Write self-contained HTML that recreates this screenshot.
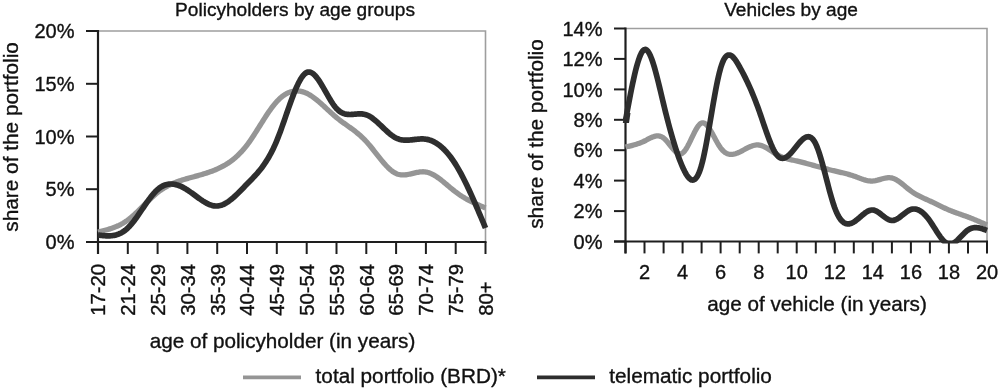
<!DOCTYPE html>
<html><head><meta charset="utf-8"><style>
html,body{margin:0;padding:0;background:#fff;}
svg{display:block;filter:grayscale(1);}
text{font-family:"Liberation Sans", sans-serif;fill:#111;stroke:#111;stroke-width:0.35px;}
</style></head><body>
<svg width="1000" height="391" viewBox="0 0 1000 391">
<path d="M98,31 H485.5 V242" fill="none" stroke="#9e9e9e" stroke-width="1.6"/>
<line x1="86" y1="242.0" x2="98" y2="242.0" stroke="#1e1e1e" stroke-width="2"/>
<text x="74.5" y="249.2" text-anchor="end" font-size="20">0%</text>
<line x1="86" y1="189.2" x2="98" y2="189.2" stroke="#1e1e1e" stroke-width="2"/>
<text x="74.5" y="196.4" text-anchor="end" font-size="20">5%</text>
<line x1="86" y1="136.5" x2="98" y2="136.5" stroke="#1e1e1e" stroke-width="2"/>
<text x="74.5" y="143.7" text-anchor="end" font-size="20">10%</text>
<line x1="86" y1="83.8" x2="98" y2="83.8" stroke="#1e1e1e" stroke-width="2"/>
<text x="74.5" y="91.0" text-anchor="end" font-size="20">15%</text>
<line x1="86" y1="31.0" x2="98" y2="31.0" stroke="#1e1e1e" stroke-width="2"/>
<text x="74.5" y="38.2" text-anchor="end" font-size="20">20%</text>
<line x1="98.0" y1="242" x2="98.0" y2="254" stroke="#1e1e1e" stroke-width="2"/>
<line x1="127.8" y1="242" x2="127.8" y2="254" stroke="#1e1e1e" stroke-width="2"/>
<line x1="157.6" y1="242" x2="157.6" y2="254" stroke="#1e1e1e" stroke-width="2"/>
<line x1="187.4" y1="242" x2="187.4" y2="254" stroke="#1e1e1e" stroke-width="2"/>
<line x1="217.2" y1="242" x2="217.2" y2="254" stroke="#1e1e1e" stroke-width="2"/>
<line x1="247.0" y1="242" x2="247.0" y2="254" stroke="#1e1e1e" stroke-width="2"/>
<line x1="276.8" y1="242" x2="276.8" y2="254" stroke="#1e1e1e" stroke-width="2"/>
<line x1="306.7" y1="242" x2="306.7" y2="254" stroke="#1e1e1e" stroke-width="2"/>
<line x1="336.5" y1="242" x2="336.5" y2="254" stroke="#1e1e1e" stroke-width="2"/>
<line x1="366.3" y1="242" x2="366.3" y2="254" stroke="#1e1e1e" stroke-width="2"/>
<line x1="396.1" y1="242" x2="396.1" y2="254" stroke="#1e1e1e" stroke-width="2"/>
<line x1="425.9" y1="242" x2="425.9" y2="254" stroke="#1e1e1e" stroke-width="2"/>
<line x1="455.7" y1="242" x2="455.7" y2="254" stroke="#1e1e1e" stroke-width="2"/>
<line x1="485.5" y1="242" x2="485.5" y2="254" stroke="#1e1e1e" stroke-width="2"/>
<text transform="translate(105.3,315.8) rotate(-90)" font-size="20.3">17-20</text>
<text transform="translate(135.1,315.8) rotate(-90)" font-size="20.3">21-24</text>
<text transform="translate(164.9,315.8) rotate(-90)" font-size="20.3">25-29</text>
<text transform="translate(194.7,315.8) rotate(-90)" font-size="20.3">30-34</text>
<text transform="translate(224.5,315.8) rotate(-90)" font-size="20.3">35-39</text>
<text transform="translate(254.3,315.8) rotate(-90)" font-size="20.3">40-44</text>
<text transform="translate(284.1,315.8) rotate(-90)" font-size="20.3">45-49</text>
<text transform="translate(314.0,315.8) rotate(-90)" font-size="20.3">50-54</text>
<text transform="translate(343.8,315.8) rotate(-90)" font-size="20.3">55-59</text>
<text transform="translate(373.6,315.8) rotate(-90)" font-size="20.3">60-64</text>
<text transform="translate(403.4,315.8) rotate(-90)" font-size="20.3">65-69</text>
<text transform="translate(433.2,315.8) rotate(-90)" font-size="20.3">70-74</text>
<text transform="translate(463.0,315.8) rotate(-90)" font-size="20.3">75-79</text>
<text transform="translate(492.8,315.8) rotate(-90)" font-size="20.3">80+</text>
<line x1="98" y1="30" x2="98" y2="254" stroke="#1e1e1e" stroke-width="2.2"/>
<line x1="86" y1="242" x2="486.5" y2="242" stroke="#1e1e1e" stroke-width="2"/>
<path d="M98.00,232.00 L99.00,231.76 L100.00,231.53 L101.00,231.29 L102.00,231.05 L103.00,230.80 L104.00,230.55 L105.00,230.29 L106.00,230.02 L107.00,229.75 L108.00,229.46 L109.00,229.16 L110.00,228.85 L111.00,228.53 L112.00,228.19 L113.00,227.84 L114.00,227.47 L115.00,227.08 L116.00,226.67 L117.00,226.24 L118.00,225.79 L119.00,225.32 L120.00,224.82 L121.00,224.30 L122.00,223.75 L123.00,223.18 L124.00,222.58 L125.00,221.94 L126.00,221.28 L127.00,220.59 L128.00,219.86 L129.00,219.10 L130.00,218.30 L131.00,217.48 L132.00,216.64 L133.00,215.76 L134.00,214.87 L135.00,213.95 L136.00,213.02 L137.00,212.07 L138.00,211.11 L139.00,210.13 L140.00,209.14 L141.00,208.15 L142.00,207.15 L143.00,206.15 L144.00,205.15 L145.00,204.15 L146.00,203.15 L147.00,202.15 L148.00,201.17 L149.00,200.19 L150.00,199.23 L151.00,198.28 L152.00,197.34 L153.00,196.43 L154.00,195.53 L155.00,194.66 L156.00,193.81 L157.00,192.99 L158.00,192.20 L159.00,191.44 L160.00,190.70 L161.00,190.00 L162.00,189.32 L163.00,188.67 L164.00,188.04 L165.00,187.44 L166.00,186.86 L167.00,186.31 L168.00,185.78 L169.00,185.26 L170.00,184.77 L171.00,184.30 L172.00,183.84 L173.00,183.41 L174.00,182.99 L175.00,182.58 L176.00,182.19 L177.00,181.82 L178.00,181.45 L179.00,181.10 L180.00,180.76 L181.00,180.43 L182.00,180.11 L183.00,179.80 L184.00,179.50 L185.00,179.20 L186.00,178.91 L187.00,178.62 L188.00,178.34 L189.00,178.06 L190.00,177.78 L191.00,177.51 L192.00,177.23 L193.00,176.96 L194.00,176.69 L195.00,176.41 L196.00,176.14 L197.00,175.86 L198.00,175.59 L199.00,175.31 L200.00,175.02 L201.00,174.74 L202.00,174.44 L203.00,174.15 L204.00,173.84 L205.00,173.53 L206.00,173.22 L207.00,172.89 L208.00,172.56 L209.00,172.22 L210.00,171.87 L211.00,171.51 L212.00,171.14 L213.00,170.75 L214.00,170.36 L215.00,169.95 L216.00,169.53 L217.00,169.10 L218.00,168.65 L219.00,168.19 L220.00,167.71 L221.00,167.22 L222.00,166.70 L223.00,166.17 L224.00,165.62 L225.00,165.05 L226.00,164.45 L227.00,163.83 L228.00,163.19 L229.00,162.52 L230.00,161.82 L231.00,161.10 L232.00,160.35 L233.00,159.57 L234.00,158.76 L235.00,157.92 L236.00,157.05 L237.00,156.15 L238.00,155.21 L239.00,154.23 L240.00,153.22 L241.00,152.17 L242.00,151.09 L243.00,149.96 L244.00,148.80 L245.00,147.59 L246.00,146.34 L247.00,145.05 L248.00,143.72 L249.00,142.34 L250.00,140.93 L251.00,139.48 L252.00,138.00 L253.00,136.50 L254.00,134.97 L255.00,133.42 L256.00,131.86 L257.00,130.28 L258.00,128.69 L259.00,127.10 L260.00,125.50 L261.00,123.91 L262.00,122.32 L263.00,120.73 L264.00,119.16 L265.00,117.60 L266.00,116.07 L267.00,114.55 L268.00,113.06 L269.00,111.59 L270.00,110.16 L271.00,108.77 L272.00,107.41 L273.00,106.10 L274.00,104.83 L275.00,103.61 L276.00,102.44 L277.00,101.33 L278.00,100.28 L279.00,99.29 L280.00,98.36 L281.00,97.48 L282.00,96.66 L283.00,95.90 L284.00,95.20 L285.00,94.55 L286.00,93.95 L287.00,93.42 L288.00,92.93 L289.00,92.50 L290.00,92.12 L291.00,91.80 L292.00,91.53 L293.00,91.31 L294.00,91.15 L295.00,91.03 L296.00,90.96 L297.00,90.95 L298.00,90.99 L299.00,91.07 L300.00,91.20 L301.00,91.38 L302.00,91.61 L303.00,91.89 L304.00,92.22 L305.00,92.59 L306.00,93.00 L307.00,93.47 L308.00,93.97 L309.00,94.52 L310.00,95.11 L311.00,95.74 L312.00,96.40 L313.00,97.09 L314.00,97.82 L315.00,98.57 L316.00,99.36 L317.00,100.16 L318.00,100.99 L319.00,101.84 L320.00,102.70 L321.00,103.58 L322.00,104.48 L323.00,105.38 L324.00,106.30 L325.00,107.22 L326.00,108.14 L327.00,109.07 L328.00,109.99 L329.00,110.92 L330.00,111.83 L331.00,112.74 L332.00,113.65 L333.00,114.54 L334.00,115.41 L335.00,116.28 L336.00,117.12 L337.00,117.94 L338.00,118.74 L339.00,119.53 L340.00,120.29 L341.00,121.05 L342.00,121.79 L343.00,122.52 L344.00,123.24 L345.00,123.96 L346.00,124.67 L347.00,125.38 L348.00,126.09 L349.00,126.80 L350.00,127.52 L351.00,128.24 L352.00,128.97 L353.00,129.71 L354.00,130.47 L355.00,131.23 L356.00,132.02 L357.00,132.82 L358.00,133.64 L359.00,134.49 L360.00,135.36 L361.00,136.26 L362.00,137.18 L363.00,138.14 L364.00,139.12 L365.00,140.15 L366.00,141.21 L367.00,142.31 L368.00,143.44 L369.00,144.61 L370.00,145.80 L371.00,147.02 L372.00,148.26 L373.00,149.52 L374.00,150.79 L375.00,152.06 L376.00,153.34 L377.00,154.62 L378.00,155.90 L379.00,157.16 L380.00,158.42 L381.00,159.65 L382.00,160.87 L383.00,162.06 L384.00,163.23 L385.00,164.36 L386.00,165.45 L387.00,166.50 L388.00,167.51 L389.00,168.47 L390.00,169.38 L391.00,170.22 L392.00,171.01 L393.00,171.73 L394.00,172.39 L395.00,172.96 L396.00,173.46 L397.00,173.89 L398.00,174.23 L399.00,174.50 L400.00,174.70 L401.00,174.84 L402.00,174.92 L403.00,174.95 L404.00,174.93 L405.00,174.86 L406.00,174.76 L407.00,174.62 L408.00,174.46 L409.00,174.27 L410.00,174.06 L411.00,173.83 L412.00,173.60 L413.00,173.36 L414.00,173.12 L415.00,172.89 L416.00,172.67 L417.00,172.46 L418.00,172.26 L419.00,172.10 L420.00,171.96 L421.00,171.86 L422.00,171.79 L423.00,171.77 L424.00,171.80 L425.00,171.88 L426.00,172.02 L427.00,172.22 L428.00,172.48 L429.00,172.79 L430.00,173.16 L431.00,173.58 L432.00,174.05 L433.00,174.56 L434.00,175.12 L435.00,175.71 L436.00,176.34 L437.00,177.01 L438.00,177.70 L439.00,178.42 L440.00,179.17 L441.00,179.94 L442.00,180.73 L443.00,181.54 L444.00,182.36 L445.00,183.19 L446.00,184.03 L447.00,184.87 L448.00,185.72 L449.00,186.56 L450.00,187.41 L451.00,188.24 L452.00,189.07 L453.00,189.89 L454.00,190.69 L455.00,191.47 L456.00,192.23 L457.00,192.97 L458.00,193.69 L459.00,194.39 L460.00,195.07 L461.00,195.73 L462.00,196.37 L463.00,197.00 L464.00,197.60 L465.00,198.20 L466.00,198.77 L467.00,199.33 L468.00,199.88 L469.00,200.41 L470.00,200.94 L471.00,201.45 L472.00,201.94 L473.00,202.43 L474.00,202.91 L475.00,203.39 L476.00,203.85 L477.00,204.30 L478.00,204.75 L479.00,205.20 L480.00,205.64 L481.00,206.07 L482.00,206.50 L483.00,206.93 L484.00,207.36 L485.00,207.79 L485.50,208.00" fill="none" stroke="#959595" stroke-width="5.3" stroke-linejoin="round" stroke-linecap="butt"/>
<path d="M98.00,235.00 L99.00,235.13 L100.00,235.25 L101.00,235.37 L102.00,235.48 L103.00,235.58 L104.00,235.67 L105.00,235.74 L106.00,235.80 L107.00,235.84 L108.00,235.85 L109.00,235.85 L110.00,235.81 L111.00,235.75 L112.00,235.65 L113.00,235.52 L114.00,235.35 L115.00,235.15 L116.00,234.90 L117.00,234.61 L118.00,234.27 L119.00,233.88 L120.00,233.45 L121.00,232.96 L122.00,232.41 L123.00,231.80 L124.00,231.14 L125.00,230.41 L126.00,229.61 L127.00,228.75 L128.00,227.81 L129.00,226.81 L130.00,225.74 L131.00,224.60 L132.00,223.41 L133.00,222.17 L134.00,220.88 L135.00,219.55 L136.00,218.19 L137.00,216.79 L138.00,215.37 L139.00,213.92 L140.00,212.46 L141.00,210.99 L142.00,209.51 L143.00,208.04 L144.00,206.56 L145.00,205.10 L146.00,203.64 L147.00,202.21 L148.00,200.80 L149.00,199.43 L150.00,198.08 L151.00,196.78 L152.00,195.52 L153.00,194.30 L154.00,193.15 L155.00,192.05 L156.00,191.02 L157.00,190.06 L158.00,189.17 L159.00,188.36 L160.00,187.62 L161.00,186.96 L162.00,186.37 L163.00,185.85 L164.00,185.39 L165.00,185.01 L166.00,184.69 L167.00,184.43 L168.00,184.23 L169.00,184.09 L170.00,184.01 L171.00,183.99 L172.00,184.02 L173.00,184.10 L174.00,184.23 L175.00,184.41 L176.00,184.64 L177.00,184.91 L178.00,185.23 L179.00,185.59 L180.00,185.98 L181.00,186.42 L182.00,186.89 L183.00,187.40 L184.00,187.93 L185.00,188.50 L186.00,189.10 L187.00,189.73 L188.00,190.38 L189.00,191.05 L190.00,191.75 L191.00,192.46 L192.00,193.18 L193.00,193.91 L194.00,194.65 L195.00,195.39 L196.00,196.14 L197.00,196.88 L198.00,197.61 L199.00,198.33 L200.00,199.04 L201.00,199.74 L202.00,200.41 L203.00,201.07 L204.00,201.69 L205.00,202.29 L206.00,202.86 L207.00,203.39 L208.00,203.88 L209.00,204.33 L210.00,204.73 L211.00,205.08 L212.00,205.39 L213.00,205.64 L214.00,205.83 L215.00,205.95 L216.00,206.02 L217.00,206.01 L218.00,205.94 L219.00,205.79 L220.00,205.58 L221.00,205.30 L222.00,204.96 L223.00,204.56 L224.00,204.10 L225.00,203.59 L226.00,203.03 L227.00,202.42 L228.00,201.76 L229.00,201.06 L230.00,200.32 L231.00,199.54 L232.00,198.72 L233.00,197.88 L234.00,197.00 L235.00,196.09 L236.00,195.16 L237.00,194.21 L238.00,193.24 L239.00,192.25 L240.00,191.24 L241.00,190.23 L242.00,189.20 L243.00,188.17 L244.00,187.14 L245.00,186.10 L246.00,185.07 L247.00,184.04 L248.00,183.02 L249.00,182.00 L250.00,180.98 L251.00,179.95 L252.00,178.92 L253.00,177.88 L254.00,176.82 L255.00,175.75 L256.00,174.65 L257.00,173.53 L258.00,172.38 L259.00,171.19 L260.00,169.97 L261.00,168.71 L262.00,167.41 L263.00,166.06 L264.00,164.65 L265.00,163.20 L266.00,161.68 L267.00,160.10 L268.00,158.46 L269.00,156.75 L270.00,154.96 L271.00,153.10 L272.00,151.16 L273.00,149.14 L274.00,147.02 L275.00,144.82 L276.00,142.52 L277.00,140.12 L278.00,137.63 L279.00,135.05 L280.00,132.39 L281.00,129.66 L282.00,126.88 L283.00,124.06 L284.00,121.20 L285.00,118.32 L286.00,115.43 L287.00,112.55 L288.00,109.67 L289.00,106.82 L290.00,104.01 L291.00,101.24 L292.00,98.53 L293.00,95.88 L294.00,93.32 L295.00,90.85 L296.00,88.48 L297.00,86.22 L298.00,84.09 L299.00,82.09 L300.00,80.24 L301.00,78.55 L302.00,77.03 L303.00,75.69 L304.00,74.54 L305.00,73.59 L306.00,72.86 L307.00,72.35 L308.00,72.07 L309.00,72.01 L310.00,72.15 L311.00,72.49 L312.00,73.00 L313.00,73.68 L314.00,74.52 L315.00,75.50 L316.00,76.62 L317.00,77.85 L318.00,79.19 L319.00,80.63 L320.00,82.15 L321.00,83.75 L322.00,85.40 L323.00,87.10 L324.00,88.83 L325.00,90.59 L326.00,92.36 L327.00,94.12 L328.00,95.88 L329.00,97.61 L330.00,99.30 L331.00,100.94 L332.00,102.52 L333.00,104.03 L334.00,105.45 L335.00,106.77 L336.00,107.98 L337.00,109.07 L338.00,110.04 L339.00,110.89 L340.00,111.63 L341.00,112.27 L342.00,112.81 L343.00,113.26 L344.00,113.62 L345.00,113.92 L346.00,114.14 L347.00,114.30 L348.00,114.41 L349.00,114.46 L350.00,114.48 L351.00,114.46 L352.00,114.41 L353.00,114.35 L354.00,114.27 L355.00,114.18 L356.00,114.09 L357.00,114.01 L358.00,113.94 L359.00,113.89 L360.00,113.87 L361.00,113.89 L362.00,113.94 L363.00,114.04 L364.00,114.20 L365.00,114.42 L366.00,114.71 L367.00,115.07 L368.00,115.51 L369.00,116.02 L370.00,116.58 L371.00,117.21 L372.00,117.90 L373.00,118.63 L374.00,119.41 L375.00,120.22 L376.00,121.08 L377.00,121.96 L378.00,122.87 L379.00,123.79 L380.00,124.74 L381.00,125.69 L382.00,126.65 L383.00,127.61 L384.00,128.57 L385.00,129.51 L386.00,130.45 L387.00,131.36 L388.00,132.25 L389.00,133.12 L390.00,133.95 L391.00,134.74 L392.00,135.49 L393.00,136.19 L394.00,136.84 L395.00,137.43 L396.00,137.96 L397.00,138.43 L398.00,138.82 L399.00,139.16 L400.00,139.45 L401.00,139.68 L402.00,139.86 L403.00,139.99 L404.00,140.09 L405.00,140.14 L406.00,140.16 L407.00,140.16 L408.00,140.12 L409.00,140.06 L410.00,139.99 L411.00,139.89 L412.00,139.79 L413.00,139.68 L414.00,139.56 L415.00,139.45 L416.00,139.33 L417.00,139.23 L418.00,139.13 L419.00,139.05 L420.00,138.99 L421.00,138.95 L422.00,138.94 L423.00,138.95 L424.00,139.00 L425.00,139.09 L426.00,139.22 L427.00,139.39 L428.00,139.60 L429.00,139.86 L430.00,140.17 L431.00,140.52 L432.00,140.92 L433.00,141.36 L434.00,141.85 L435.00,142.39 L436.00,142.97 L437.00,143.60 L438.00,144.28 L439.00,145.01 L440.00,145.78 L441.00,146.61 L442.00,147.48 L443.00,148.40 L444.00,149.37 L445.00,150.39 L446.00,151.46 L447.00,152.58 L448.00,153.75 L449.00,154.98 L450.00,156.25 L451.00,157.58 L452.00,158.96 L453.00,160.39 L454.00,161.87 L455.00,163.41 L456.00,164.99 L457.00,166.64 L458.00,168.33 L459.00,170.07 L460.00,171.86 L461.00,173.70 L462.00,175.58 L463.00,177.50 L464.00,179.46 L465.00,181.46 L466.00,183.50 L467.00,185.57 L468.00,187.67 L469.00,189.81 L470.00,191.98 L471.00,194.17 L472.00,196.39 L473.00,198.64 L474.00,200.90 L475.00,203.19 L476.00,205.50 L477.00,207.82 L478.00,210.16 L479.00,212.51 L480.00,214.87 L481.00,217.25 L482.00,219.63 L483.00,222.02 L484.00,224.41 L485.00,226.80 L485.50,228.00" fill="none" stroke="#2e2e2e" stroke-width="5.7" stroke-linejoin="round" stroke-linecap="butt"/>
<text x="295" y="15.7" text-anchor="middle" font-size="19.1">Policyholders by age groups</text>
<text transform="translate(17.9,136.9) rotate(-90)" text-anchor="middle" font-size="20.8">share of the portfolio</text>
<text x="282.5" y="348.4" text-anchor="middle" font-size="20.7">age of policyholder (in years)</text>
<path d="M625.5,28.5 H987 V241.5" fill="none" stroke="#9e9e9e" stroke-width="1.6"/>
<line x1="614" y1="241.5" x2="625.5" y2="241.5" stroke="#1e1e1e" stroke-width="2"/>
<text x="602.5" y="248.7" text-anchor="end" font-size="20">0%</text>
<line x1="614" y1="211.1" x2="625.5" y2="211.1" stroke="#1e1e1e" stroke-width="2"/>
<text x="602.5" y="218.3" text-anchor="end" font-size="20">2%</text>
<line x1="614" y1="180.6" x2="625.5" y2="180.6" stroke="#1e1e1e" stroke-width="2"/>
<text x="602.5" y="187.8" text-anchor="end" font-size="20">4%</text>
<line x1="614" y1="150.2" x2="625.5" y2="150.2" stroke="#1e1e1e" stroke-width="2"/>
<text x="602.5" y="157.4" text-anchor="end" font-size="20">6%</text>
<line x1="614" y1="119.8" x2="625.5" y2="119.8" stroke="#1e1e1e" stroke-width="2"/>
<text x="602.5" y="127.0" text-anchor="end" font-size="20">8%</text>
<line x1="614" y1="89.4" x2="625.5" y2="89.4" stroke="#1e1e1e" stroke-width="2"/>
<text x="602.5" y="96.6" text-anchor="end" font-size="20">10%</text>
<line x1="614" y1="58.9" x2="625.5" y2="58.9" stroke="#1e1e1e" stroke-width="2"/>
<text x="602.5" y="66.1" text-anchor="end" font-size="20">12%</text>
<line x1="614" y1="28.5" x2="625.5" y2="28.5" stroke="#1e1e1e" stroke-width="2"/>
<text x="602.5" y="35.7" text-anchor="end" font-size="20">14%</text>
<line x1="625.5" y1="241.5" x2="625.5" y2="253.4" stroke="#1e1e1e" stroke-width="2"/>
<line x1="644.5" y1="241.5" x2="644.5" y2="253.4" stroke="#1e1e1e" stroke-width="2"/>
<line x1="663.6" y1="241.5" x2="663.6" y2="253.4" stroke="#1e1e1e" stroke-width="2"/>
<line x1="682.6" y1="241.5" x2="682.6" y2="253.4" stroke="#1e1e1e" stroke-width="2"/>
<line x1="701.6" y1="241.5" x2="701.6" y2="253.4" stroke="#1e1e1e" stroke-width="2"/>
<line x1="720.6" y1="241.5" x2="720.6" y2="253.4" stroke="#1e1e1e" stroke-width="2"/>
<line x1="739.7" y1="241.5" x2="739.7" y2="253.4" stroke="#1e1e1e" stroke-width="2"/>
<line x1="758.7" y1="241.5" x2="758.7" y2="253.4" stroke="#1e1e1e" stroke-width="2"/>
<line x1="777.7" y1="241.5" x2="777.7" y2="253.4" stroke="#1e1e1e" stroke-width="2"/>
<line x1="796.7" y1="241.5" x2="796.7" y2="253.4" stroke="#1e1e1e" stroke-width="2"/>
<line x1="815.8" y1="241.5" x2="815.8" y2="253.4" stroke="#1e1e1e" stroke-width="2"/>
<line x1="834.8" y1="241.5" x2="834.8" y2="253.4" stroke="#1e1e1e" stroke-width="2"/>
<line x1="853.8" y1="241.5" x2="853.8" y2="253.4" stroke="#1e1e1e" stroke-width="2"/>
<line x1="872.8" y1="241.5" x2="872.8" y2="253.4" stroke="#1e1e1e" stroke-width="2"/>
<line x1="891.9" y1="241.5" x2="891.9" y2="253.4" stroke="#1e1e1e" stroke-width="2"/>
<line x1="910.9" y1="241.5" x2="910.9" y2="253.4" stroke="#1e1e1e" stroke-width="2"/>
<line x1="929.9" y1="241.5" x2="929.9" y2="253.4" stroke="#1e1e1e" stroke-width="2"/>
<line x1="948.9" y1="241.5" x2="948.9" y2="253.4" stroke="#1e1e1e" stroke-width="2"/>
<line x1="968.0" y1="241.5" x2="968.0" y2="253.4" stroke="#1e1e1e" stroke-width="2"/>
<line x1="987.0" y1="241.5" x2="987.0" y2="253.4" stroke="#1e1e1e" stroke-width="2"/>
<text x="644.5" y="279.2" text-anchor="middle" font-size="20">2</text>
<text x="682.6" y="279.2" text-anchor="middle" font-size="20">4</text>
<text x="720.6" y="279.2" text-anchor="middle" font-size="20">6</text>
<text x="758.7" y="279.2" text-anchor="middle" font-size="20">8</text>
<text x="796.7" y="279.2" text-anchor="middle" font-size="20">10</text>
<text x="834.8" y="279.2" text-anchor="middle" font-size="20">12</text>
<text x="872.8" y="279.2" text-anchor="middle" font-size="20">14</text>
<text x="910.9" y="279.2" text-anchor="middle" font-size="20">16</text>
<text x="948.9" y="279.2" text-anchor="middle" font-size="20">18</text>
<text x="987.0" y="279.2" text-anchor="middle" font-size="20">20</text>
<line x1="625.5" y1="27.5" x2="625.5" y2="253.4" stroke="#1e1e1e" stroke-width="2.2"/>
<line x1="614" y1="241.5" x2="988" y2="241.5" stroke="#1e1e1e" stroke-width="2"/>
<path d="M625.50,147.00 L626.50,146.77 L627.50,146.54 L628.50,146.31 L629.50,146.07 L630.50,145.83 L631.50,145.58 L632.50,145.32 L633.50,145.05 L634.50,144.77 L635.50,144.48 L636.50,144.17 L637.50,143.85 L638.50,143.51 L639.50,143.15 L640.50,142.77 L641.50,142.36 L642.50,141.94 L643.50,141.49 L644.50,141.01 L645.50,140.51 L646.50,139.99 L647.50,139.46 L648.50,138.94 L649.50,138.42 L650.50,137.93 L651.50,137.47 L652.50,137.05 L653.50,136.68 L654.50,136.37 L655.50,136.13 L656.50,135.98 L657.50,135.91 L658.50,135.94 L659.50,136.09 L660.50,136.35 L661.50,136.74 L662.50,137.28 L663.50,137.96 L664.50,138.80 L665.50,139.77 L666.50,140.85 L667.50,142.02 L668.50,143.26 L669.50,144.53 L670.50,145.81 L671.50,147.08 L672.50,148.31 L673.50,149.47 L674.50,150.55 L675.50,151.52 L676.50,152.35 L677.50,153.02 L678.50,153.50 L679.50,153.77 L680.50,153.80 L681.50,153.57 L682.50,153.05 L683.50,152.23 L684.50,151.13 L685.50,149.78 L686.50,148.22 L687.50,146.49 L688.50,144.61 L689.50,142.62 L690.50,140.56 L691.50,138.46 L692.50,136.36 L693.50,134.29 L694.50,132.29 L695.50,130.38 L696.50,128.62 L697.50,127.02 L698.50,125.63 L699.50,124.48 L700.50,123.61 L701.50,123.04 L702.50,122.81 L703.50,122.91 L704.50,123.30 L705.50,123.96 L706.50,124.87 L707.50,125.99 L708.50,127.30 L709.50,128.77 L710.50,130.37 L711.50,132.08 L712.50,133.87 L713.50,135.72 L714.50,137.58 L715.50,139.45 L716.50,141.29 L717.50,143.08 L718.50,144.78 L719.50,146.37 L720.50,147.82 L721.50,149.11 L722.50,150.25 L723.50,151.22 L724.50,152.06 L725.50,152.75 L726.50,153.31 L727.50,153.75 L728.50,154.07 L729.50,154.28 L730.50,154.40 L731.50,154.41 L732.50,154.35 L733.50,154.20 L734.50,153.98 L735.50,153.70 L736.50,153.36 L737.50,152.97 L738.50,152.54 L739.50,152.08 L740.50,151.59 L741.50,151.07 L742.50,150.55 L743.50,150.02 L744.50,149.48 L745.50,148.95 L746.50,148.42 L747.50,147.91 L748.50,147.42 L749.50,146.96 L750.50,146.53 L751.50,146.14 L752.50,145.80 L753.50,145.50 L754.50,145.26 L755.50,145.08 L756.50,144.97 L757.50,144.94 L758.50,144.98 L759.50,145.11 L760.50,145.32 L761.50,145.61 L762.50,145.96 L763.50,146.37 L764.50,146.84 L765.50,147.36 L766.50,147.91 L767.50,148.51 L768.50,149.13 L769.50,149.77 L770.50,150.43 L771.50,151.09 L772.50,151.76 L773.50,152.42 L774.50,153.07 L775.50,153.70 L776.50,154.31 L777.50,154.88 L778.50,155.42 L779.50,155.92 L780.50,156.38 L781.50,156.82 L782.50,157.22 L783.50,157.59 L784.50,157.93 L785.50,158.26 L786.50,158.56 L787.50,158.84 L788.50,159.11 L789.50,159.36 L790.50,159.60 L791.50,159.84 L792.50,160.06 L793.50,160.28 L794.50,160.50 L795.50,160.72 L796.50,160.95 L797.50,161.17 L798.50,161.41 L799.50,161.65 L800.50,161.89 L801.50,162.14 L802.50,162.40 L803.50,162.65 L804.50,162.91 L805.50,163.18 L806.50,163.44 L807.50,163.71 L808.50,163.99 L809.50,164.26 L810.50,164.54 L811.50,164.81 L812.50,165.09 L813.50,165.37 L814.50,165.65 L815.50,165.93 L816.50,166.20 L817.50,166.48 L818.50,166.76 L819.50,167.03 L820.50,167.31 L821.50,167.58 L822.50,167.85 L823.50,168.12 L824.50,168.39 L825.50,168.66 L826.50,168.92 L827.50,169.18 L828.50,169.44 L829.50,169.70 L830.50,169.95 L831.50,170.20 L832.50,170.45 L833.50,170.69 L834.50,170.93 L835.50,171.17 L836.50,171.40 L837.50,171.63 L838.50,171.86 L839.50,172.09 L840.50,172.32 L841.50,172.55 L842.50,172.79 L843.50,173.03 L844.50,173.28 L845.50,173.53 L846.50,173.79 L847.50,174.05 L848.50,174.33 L849.50,174.62 L850.50,174.92 L851.50,175.23 L852.50,175.55 L853.50,175.89 L854.50,176.24 L855.50,176.61 L856.50,176.99 L857.50,177.37 L858.50,177.75 L859.50,178.13 L860.50,178.51 L861.50,178.87 L862.50,179.22 L863.50,179.55 L864.50,179.85 L865.50,180.13 L866.50,180.38 L867.50,180.60 L868.50,180.78 L869.50,180.91 L870.50,181.00 L871.50,181.04 L872.50,181.02 L873.50,180.94 L874.50,180.81 L875.50,180.64 L876.50,180.42 L877.50,180.18 L878.50,179.91 L879.50,179.63 L880.50,179.34 L881.50,179.05 L882.50,178.76 L883.50,178.50 L884.50,178.26 L885.50,178.05 L886.50,177.88 L887.50,177.76 L888.50,177.70 L889.50,177.70 L890.50,177.77 L891.50,177.92 L892.50,178.16 L893.50,178.49 L894.50,178.89 L895.50,179.37 L896.50,179.91 L897.50,180.51 L898.50,181.17 L899.50,181.87 L900.50,182.61 L901.50,183.38 L902.50,184.18 L903.50,185.00 L904.50,185.83 L905.50,186.67 L906.50,187.51 L907.50,188.33 L908.50,189.15 L909.50,189.94 L910.50,190.71 L911.50,191.44 L912.50,192.13 L913.50,192.80 L914.50,193.43 L915.50,194.03 L916.50,194.61 L917.50,195.16 L918.50,195.69 L919.50,196.20 L920.50,196.70 L921.50,197.18 L922.50,197.65 L923.50,198.11 L924.50,198.56 L925.50,199.01 L926.50,199.46 L927.50,199.91 L928.50,200.35 L929.50,200.81 L930.50,201.27 L931.50,201.74 L932.50,202.21 L933.50,202.69 L934.50,203.17 L935.50,203.66 L936.50,204.15 L937.50,204.64 L938.50,205.13 L939.50,205.62 L940.50,206.11 L941.50,206.59 L942.50,207.07 L943.50,207.55 L944.50,208.02 L945.50,208.48 L946.50,208.93 L947.50,209.38 L948.50,209.81 L949.50,210.23 L950.50,210.64 L951.50,211.04 L952.50,211.43 L953.50,211.81 L954.50,212.19 L955.50,212.55 L956.50,212.91 L957.50,213.27 L958.50,213.63 L959.50,213.98 L960.50,214.33 L961.50,214.68 L962.50,215.03 L963.50,215.38 L964.50,215.73 L965.50,216.09 L966.50,216.45 L967.50,216.82 L968.50,217.20 L969.50,217.58 L970.50,217.97 L971.50,218.36 L972.50,218.76 L973.50,219.17 L974.50,219.58 L975.50,220.00 L976.50,220.42 L977.50,220.84 L978.50,221.27 L979.50,221.70 L980.50,222.14 L981.50,222.57 L982.50,223.01 L983.50,223.45 L984.50,223.89 L985.50,224.34 L986.50,224.78 L987.00,225.00" fill="none" stroke="#959595" stroke-width="5.3" stroke-linejoin="round"/>
<path d="M622.8,123 L629,123 L630.5,113 L624.5,113 Z" fill="#2e2e2e"/>
<defs><clipPath id="rc"><rect x="600" y="0" width="400" height="243.6"/></clipPath></defs>
<path clip-path="url(#rc)" d="M625.50,120.70 L626.50,115.26 L627.50,109.84 L628.50,104.49 L629.50,99.21 L630.50,94.06 L631.50,89.04 L632.50,84.19 L633.50,79.54 L634.50,75.11 L635.50,70.94 L636.50,67.05 L637.50,63.48 L638.50,60.24 L639.50,57.37 L640.50,54.89 L641.50,52.84 L642.50,51.24 L643.50,50.12 L644.50,49.51 L645.50,49.43 L646.50,49.85 L647.50,50.75 L648.50,52.09 L649.50,53.84 L650.50,55.97 L651.50,58.45 L652.50,61.25 L653.50,64.33 L654.50,67.66 L655.50,71.21 L656.50,74.95 L657.50,78.85 L658.50,82.88 L659.50,87.00 L660.50,91.18 L661.50,95.39 L662.50,99.60 L663.50,103.78 L664.50,107.90 L665.50,111.95 L666.50,115.92 L667.50,119.82 L668.50,123.63 L669.50,127.37 L670.50,131.02 L671.50,134.58 L672.50,138.04 L673.50,141.41 L674.50,144.68 L675.50,147.84 L676.50,150.90 L677.50,153.85 L678.50,156.68 L679.50,159.40 L680.50,162.00 L681.50,164.47 L682.50,166.82 L683.50,169.04 L684.50,171.10 L685.50,173.00 L686.50,174.72 L687.50,176.23 L688.50,177.52 L689.50,178.56 L690.50,179.35 L691.50,179.85 L692.50,180.06 L693.50,179.95 L694.50,179.50 L695.50,178.70 L696.50,177.52 L697.50,175.96 L698.50,173.98 L699.50,171.57 L700.50,168.71 L701.50,165.38 L702.50,161.57 L703.50,157.32 L704.50,152.69 L705.50,147.71 L706.50,142.46 L707.50,136.97 L708.50,131.30 L709.50,125.51 L710.50,119.64 L711.50,113.75 L712.50,107.89 L713.50,102.11 L714.50,96.48 L715.50,91.03 L716.50,85.82 L717.50,80.90 L718.50,76.34 L719.50,72.17 L720.50,68.45 L721.50,65.23 L722.50,62.50 L723.50,60.23 L724.50,58.41 L725.50,56.99 L726.50,55.97 L727.50,55.31 L728.50,54.99 L729.50,54.99 L730.50,55.27 L731.50,55.82 L732.50,56.61 L733.50,57.61 L734.50,58.80 L735.50,60.15 L736.50,61.65 L737.50,63.26 L738.50,64.96 L739.50,66.72 L740.50,68.52 L741.50,70.36 L742.50,72.24 L743.50,74.16 L744.50,76.12 L745.50,78.13 L746.50,80.18 L747.50,82.28 L748.50,84.44 L749.50,86.64 L750.50,88.89 L751.50,91.20 L752.50,93.57 L753.50,96.00 L754.50,98.49 L755.50,101.04 L756.50,103.65 L757.50,106.34 L758.50,109.09 L759.50,111.90 L760.50,114.78 L761.50,117.69 L762.50,120.63 L763.50,123.57 L764.50,126.51 L765.50,129.41 L766.50,132.26 L767.50,135.06 L768.50,137.77 L769.50,140.39 L770.50,142.89 L771.50,145.26 L772.50,147.48 L773.50,149.54 L774.50,151.41 L775.50,153.09 L776.50,154.55 L777.50,155.77 L778.50,156.75 L779.50,157.48 L780.50,157.99 L781.50,158.28 L782.50,158.36 L783.50,158.26 L784.50,157.99 L785.50,157.56 L786.50,156.98 L787.50,156.27 L788.50,155.45 L789.50,154.52 L790.50,153.50 L791.50,152.41 L792.50,151.25 L793.50,150.05 L794.50,148.81 L795.50,147.56 L796.50,146.30 L797.50,145.05 L798.50,143.82 L799.50,142.64 L800.50,141.51 L801.50,140.47 L802.50,139.51 L803.50,138.67 L804.50,137.96 L805.50,137.39 L806.50,136.98 L807.50,136.75 L808.50,136.72 L809.50,136.91 L810.50,137.32 L811.50,137.99 L812.50,138.91 L813.50,140.13 L814.50,141.64 L815.50,143.46 L816.50,145.62 L817.50,148.10 L818.50,150.85 L819.50,153.86 L820.50,157.08 L821.50,160.50 L822.50,164.06 L823.50,167.75 L824.50,171.53 L825.50,175.37 L826.50,179.23 L827.50,183.08 L828.50,186.90 L829.50,190.65 L830.50,194.29 L831.50,197.80 L832.50,201.15 L833.50,204.29 L834.50,207.20 L835.50,209.86 L836.50,212.24 L837.50,214.38 L838.50,216.27 L839.50,217.92 L840.50,219.35 L841.50,220.56 L842.50,221.58 L843.50,222.39 L844.50,223.03 L845.50,223.49 L846.50,223.79 L847.50,223.94 L848.50,223.94 L849.50,223.82 L850.50,223.57 L851.50,223.21 L852.50,222.74 L853.50,222.19 L854.50,221.56 L855.50,220.86 L856.50,220.10 L857.50,219.29 L858.50,218.45 L859.50,217.59 L860.50,216.73 L861.50,215.86 L862.50,215.01 L863.50,214.19 L864.50,213.40 L865.50,212.67 L866.50,212.00 L867.50,211.41 L868.50,210.90 L869.50,210.49 L870.50,210.19 L871.50,210.02 L872.50,209.98 L873.50,210.09 L874.50,210.34 L875.50,210.71 L876.50,211.19 L877.50,211.76 L878.50,212.42 L879.50,213.13 L880.50,213.88 L881.50,214.66 L882.50,215.46 L883.50,216.25 L884.50,217.02 L885.50,217.75 L886.50,218.43 L887.50,219.04 L888.50,219.57 L889.50,219.99 L890.50,220.30 L891.50,220.47 L892.50,220.50 L893.50,220.38 L894.50,220.12 L895.50,219.75 L896.50,219.28 L897.50,218.71 L898.50,218.07 L899.50,217.37 L900.50,216.62 L901.50,215.84 L902.50,215.03 L903.50,214.23 L904.50,213.43 L905.50,212.66 L906.50,211.92 L907.50,211.24 L908.50,210.62 L909.50,210.09 L910.50,209.65 L911.50,209.31 L912.50,209.09 L913.50,208.98 L914.50,208.98 L915.50,209.09 L916.50,209.29 L917.50,209.60 L918.50,210.01 L919.50,210.52 L920.50,211.12 L921.50,211.82 L922.50,212.60 L923.50,213.47 L924.50,214.43 L925.50,215.47 L926.50,216.59 L927.50,217.79 L928.50,219.06 L929.50,220.41 L930.50,221.83 L931.50,223.31 L932.50,224.84 L933.50,226.41 L934.50,227.99 L935.50,229.58 L936.50,231.16 L937.50,232.72 L938.50,234.24 L939.50,235.70 L940.50,237.10 L941.50,238.42 L942.50,239.65 L943.50,240.76 L944.50,241.76 L945.50,242.61 L946.50,243.31 L947.50,243.85 L948.50,244.20 L949.50,244.36 L950.50,244.33 L951.50,244.13 L952.50,243.76 L953.50,243.25 L954.50,242.62 L955.50,241.87 L956.50,241.03 L957.50,240.12 L958.50,239.14 L959.50,238.12 L960.50,237.07 L961.50,236.01 L962.50,234.96 L963.50,233.92 L964.50,232.93 L965.50,231.99 L966.50,231.12 L967.50,230.34 L968.50,229.66 L969.50,229.09 L970.50,228.62 L971.50,228.25 L972.50,227.97 L973.50,227.77 L974.50,227.66 L975.50,227.61 L976.50,227.64 L977.50,227.72 L978.50,227.87 L979.50,228.06 L980.50,228.30 L981.50,228.57 L982.50,228.88 L983.50,229.21 L984.50,229.56 L985.50,229.93 L986.50,230.31 L987.00,230.50" fill="none" stroke="#2e2e2e" stroke-width="5.7" stroke-linejoin="round"/>
<text x="791" y="15.7" text-anchor="middle" font-size="19.1">Vehicles by age</text>
<text transform="translate(543,134) rotate(-90)" text-anchor="middle" font-size="20.8">share of the portfolio</text>
<text x="817" y="311" text-anchor="middle" font-size="20.7">age of vehicle (in years)</text>
<line x1="243" y1="377.4" x2="301" y2="377.4" stroke="#959595" stroke-width="3.6"/>
<text x="315.6" y="383.2" font-size="20.75">total portfolio (BRD)*</text>
<line x1="537" y1="377.4" x2="595" y2="377.4" stroke="#2e2e2e" stroke-width="3.6"/>
<text x="609.3" y="383.2" font-size="20.75">telematic portfolio</text>
</svg>
</body></html>
